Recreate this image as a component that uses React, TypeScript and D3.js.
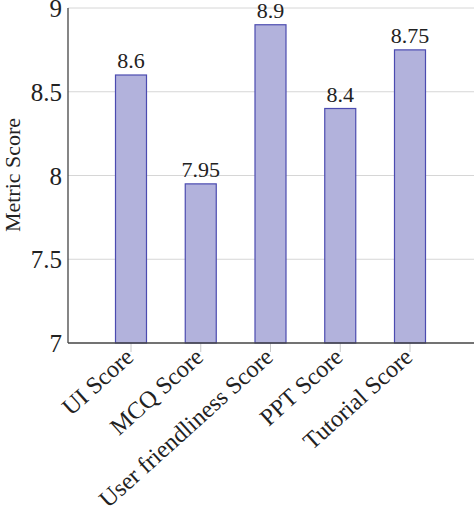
import React from "react";
import * as d3 from "d3";

const categories = ["UI Score", "MCQ Score", "User friendliness Score", "PPT Score", "Tutorial Score"];
const values = [8.6, 7.95, 8.9, 8.4, 8.75];
const valueLabels = ["8.6", "7.95", "8.9", "8.4", "8.75"];
const yTicks = [7, 7.5, 8, 8.5, 9];
const yTickLabels = ["7", "7.5", "8", "8.5", "9"];
const yTitle = "Metric Score";

const W = 474;
const H = 509;
const left = 68;
const top = 8;
const bottom = 343;
const FONT = "'Liberation Serif', 'Times New Roman', serif";

export default function App() {
  const y = d3.scaleLinear().domain([7, 9]).range([bottom, top]);
  const x = d3.scalePoint<string>().domain(categories).range([131, 410]);
  const barW = 31;
  return (
    <svg width={W} height={H} style={{ position: "absolute", left: 0, top: 0 }}>
      <rect width={W} height={H} fill="#fff" />
      {yTicks.slice(1).map((t) => (
        <line key={t} x1={left} x2={W} y1={y(t)} y2={y(t)} stroke="#d6d6d6" strokeWidth={1} />
      ))}
      {categories.map((c) => (
        <line key={c} x1={x(c)} x2={x(c)} y1={bottom} y2={bottom + 9} stroke="#c8c8c8" strokeWidth={1} />
      ))}
      {categories.map((c, i) => (
        <rect
          key={c}
          x={(x(c) as number) - barW / 2}
          y={y(values[i])}
          width={barW}
          height={bottom - y(values[i])}
          fill="#b2b2dc"
          stroke="#4b4bb0"
          strokeWidth={1.2}
        />
      ))}
      <line x1={left} x2={left} y1={top} y2={bottom} stroke="#444" strokeWidth={1.3} />
      <line x1={left} x2={W} y1={bottom} y2={bottom} stroke="#444" strokeWidth={1.3} />
      {yTicks.map((t, i) => (
        <text key={t} x={left - 6} y={y(t)} dy="0.36em" textAnchor="end" fontFamily={FONT} fontSize={25} fill="#222">
          {yTickLabels[i]}
        </text>
      ))}
      {categories.map((c, i) => (
        <text key={c} x={x(c)} y={y(values[i]) - 7} textAnchor="middle" fontFamily={FONT} fontSize={22} fill="#222">
          {valueLabels[i]}
        </text>
      ))}
      {categories.map((c) => (
        <text
          key={c}
          transform={`translate(${(x(c) as number) + 4},${bottom + 16}) rotate(-42)`}
          textAnchor="end"
          fontFamily={FONT}
          fontSize={24}
          fill="#222"
        >
          {c}
        </text>
      ))}
      <text
        transform={`translate(20,175) rotate(-90)`}
        textAnchor="middle"
        fontFamily={FONT}
        fontSize={22}
        fill="#222"
      >
        {yTitle}
      </text>
    </svg>
  );
}
